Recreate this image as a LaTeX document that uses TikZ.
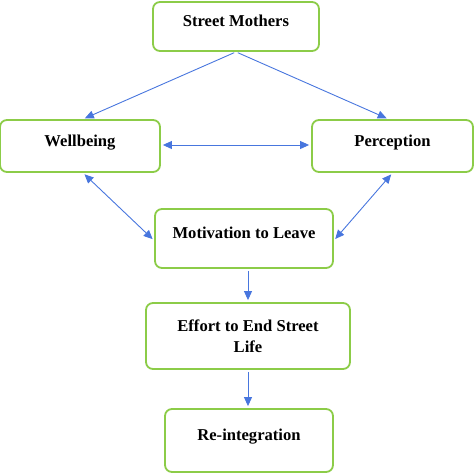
\documentclass[tikz,border=0pt]{standalone}
\usepackage{fontspec}
\setmainfont{Liberation Serif}
\usetikzlibrary{arrows.meta}
\definecolor{boxgreen}{RGB}{140,204,72}
\definecolor{arrowblue}{RGB}{72,118,222}
\tikzset{
  stagebox/.style={draw=boxgreen, line width=1.8pt, rounded corners=7pt, fill=white,
    font=\fontsize{16.6}{20.5}\selectfont\bfseries, align=center, inner sep=0pt},
  oneline/.style={text height=11pt, text depth=11pt},
  link/.style={draw=arrowblue, line width=0.9pt, -{Triangle[length=9pt,width=8pt]}, shorten >=2pt, shorten <=2pt},
  twoway/.style={draw=arrowblue, line width=0.9pt, {Triangle[length=9pt,width=8pt]}-{Triangle[length=9pt,width=8pt]}, shorten >=2pt, shorten <=2pt}
}
\begin{document}
\begin{tikzpicture}[x=1pt,y=-1pt]
\useasboundingbox (0,0) rectangle (474,474);
\node[stagebox, oneline, minimum width=166pt, minimum height=49pt] (sm) at (236,26.5) {Street Mothers};
\node[stagebox, oneline, minimum width=160pt, minimum height=52pt] (wb) at (80,146) {Wellbeing};
\node[stagebox, oneline, minimum width=161pt, minimum height=52pt] (pc) at (392.5,146) {Perception};
\node[stagebox, oneline, minimum width=178pt, minimum height=59pt] (mo) at (244,238.5) {Motivation to Leave};
\node[stagebox, minimum width=204pt, minimum height=66pt] (ef) at (248,336) {Effort to End Street\\Life};
\node[stagebox, oneline, minimum width=168pt, minimum height=63pt] (re) at (249,440.5) {Re-integration};
\draw[link] (sm.south) -- ([xshift=3pt]wb.north);
\draw[link] (sm.south) -- ([xshift=-4pt]pc.north);
\draw[twoway] ([yshift=1pt]wb.east) -- ([yshift=1pt]pc.west);
\draw[twoway] ([xshift=3pt]wb.south) -- ([yshift=-2pt]mo.west);
\draw[twoway] (pc.south) -- ([yshift=-2pt]mo.east);
\draw[link] (ef.north |- mo.south) -- (ef.north);
\draw[link] (ef.south) -- (ef.south |- re.north);
\end{tikzpicture}
\end{document}
